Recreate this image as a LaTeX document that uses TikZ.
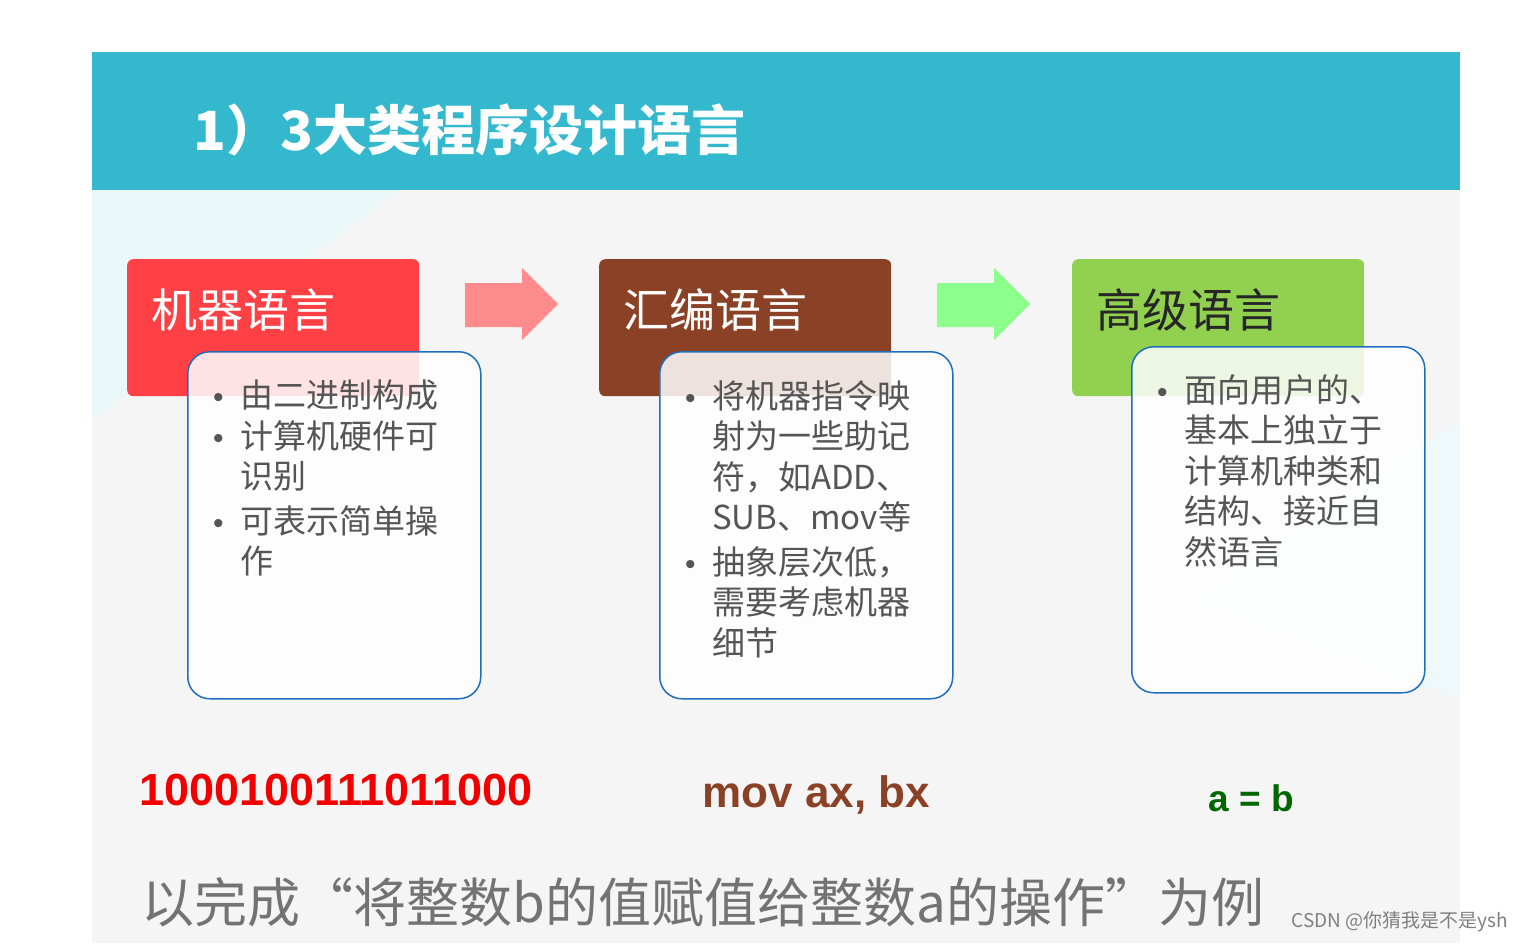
\documentclass[tikz,border=0pt]{standalone}
\usepackage{fontspec}
\setmainfont{Noto Sans CJK SC}
\newfontfamily\lat{Liberation Sans}
\definecolor{teal}{HTML}{33B8CE}
\definecolor{bred}{HTML}{FF4044}
\definecolor{bbrown}{HTML}{8B4125}
\definecolor{bgreen}{HTML}{92D050}
\definecolor{bblue}{HTML}{1F6FBF}
\definecolor{tgray}{HTML}{555555}
\newcommand{\bul}{\makebox[27pt][l]{\lat\fontsize{30}{30}\selectfont•}}
\newcommand{\ind}{\hspace*{27pt}}
\tikzset{
 hdr/.style={draw=none,rounded corners=6pt,minimum width=292pt,minimum height=137pt,anchor=north west},
 bodybox/.style={draw=bblue,line width=1.5pt,fill=white,fill opacity=0.85,rounded corners=22pt,minimum width=293pt,minimum height=347pt,anchor=north west},
 htext/.style={anchor=west,text=white,font=\fontsize{46}{50}\selectfont},
 btext/.style={anchor=north west,text=tgray,font=\fontsize{33}{40.5}\selectfont,align=left,inner sep=0pt},
 arrshape/.style={draw=none}
}
\begin{document}
\begin{tikzpicture}[x=1pt,y=-1pt]
\useasboundingbox (0,0) rectangle (1528,943);
\fill[white] (0,0) rectangle (1528,943);
\fill[gray!8] (92,190) rectangle (1460,943);
\fill[teal!10] (92,190) -- (400,190) -- (92,420) -- cycle;
\fill[teal!8] (1200,600) -- (1460,420) -- (1460,700) -- cycle;
\fill[teal] (92,52) rectangle (1460,190);
\node[anchor=west,text=white,font=\fontsize{54}{58}\bfseries\selectfont] (title) at (190,130) {1）3大类程序设计语言};
% box 1
\node[hdr,fill=bred] (h1) at (127,259) {};
\node[htext] (h1t) at (148,310) {机器语言};
\node[bodybox] (b1) at (187,351) {};
\node[btext] (b1t) at (213,380) {\bul 由二进制构成\\\bul 计算机硬件可\\\ind 识别\\[4pt]\bul 可表示简单操\\\ind 作};
% arrow 1
\fill[arrshape,fill=red!45!white] (465,283) -- (522,283) -- (522,268) -- (558,304) -- (522,340) -- (522,327) -- (465,327) -- cycle;
% box 2
\node[hdr,fill=bbrown] (h2) at (599,259) {};
\node[htext] (h2t) at (620,310) {汇编语言};
\node[bodybox] (b2) at (659,351) {};
\node[btext] (b2t) at (685,380) {\bul 将机器指令映\\\ind 射为一些助记\\\ind 符，如ADD、\\\ind SUB、mov等\\[4pt]\bul 抽象层次低，\\\ind 需要考虑机器\\\ind 细节};
% arrow 2
\fill[arrshape,fill=green!45!white] (937,283) -- (994,283) -- (994,268) -- (1030,304) -- (994,340) -- (994,327) -- (937,327) -- cycle;
% box 3
\node[hdr,fill=bgreen] (h3) at (1072,259) {};
\node[htext,text=black!85] (h3t) at (1093,310) {高级语言};
\node[bodybox,minimum height=346pt] (b3) at (1131,346) {};
\node[btext] (b3t) at (1157,374) {\bul 面向用户的、\\\ind 基本上独立于\\\ind 计算机种类和\\\ind 结构、接近自\\\ind 然语言};
% bottom
\node[anchor=west,text=red!95!black,font=\lat\fontsize{45}{50}\bfseries\selectfont] (c1) at (136,790) {1000100111011000};
\node[anchor=west,text=bbrown,font=\lat\fontsize{44}{48}\bfseries\selectfont] (c2) at (699,795) {mov ax, bx};
\node[anchor=west,text=green!40!black,font=\lat\fontsize{37}{40}\bfseries\selectfont] (c3) at (1205,798) {a = b};
\node[anchor=west,text=gray!90!black,font=\fontsize{53}{56}\selectfont] (foot) at (138,902) {以完成“将整数b的值赋值给整数a的操作”为例};
\node[anchor=west,text=gray,font=\fontsize{19}{21}\selectfont] (wm) at (1288,922) {CSDN @你猜我是不是ysh};
\end{tikzpicture}
\end{document}
